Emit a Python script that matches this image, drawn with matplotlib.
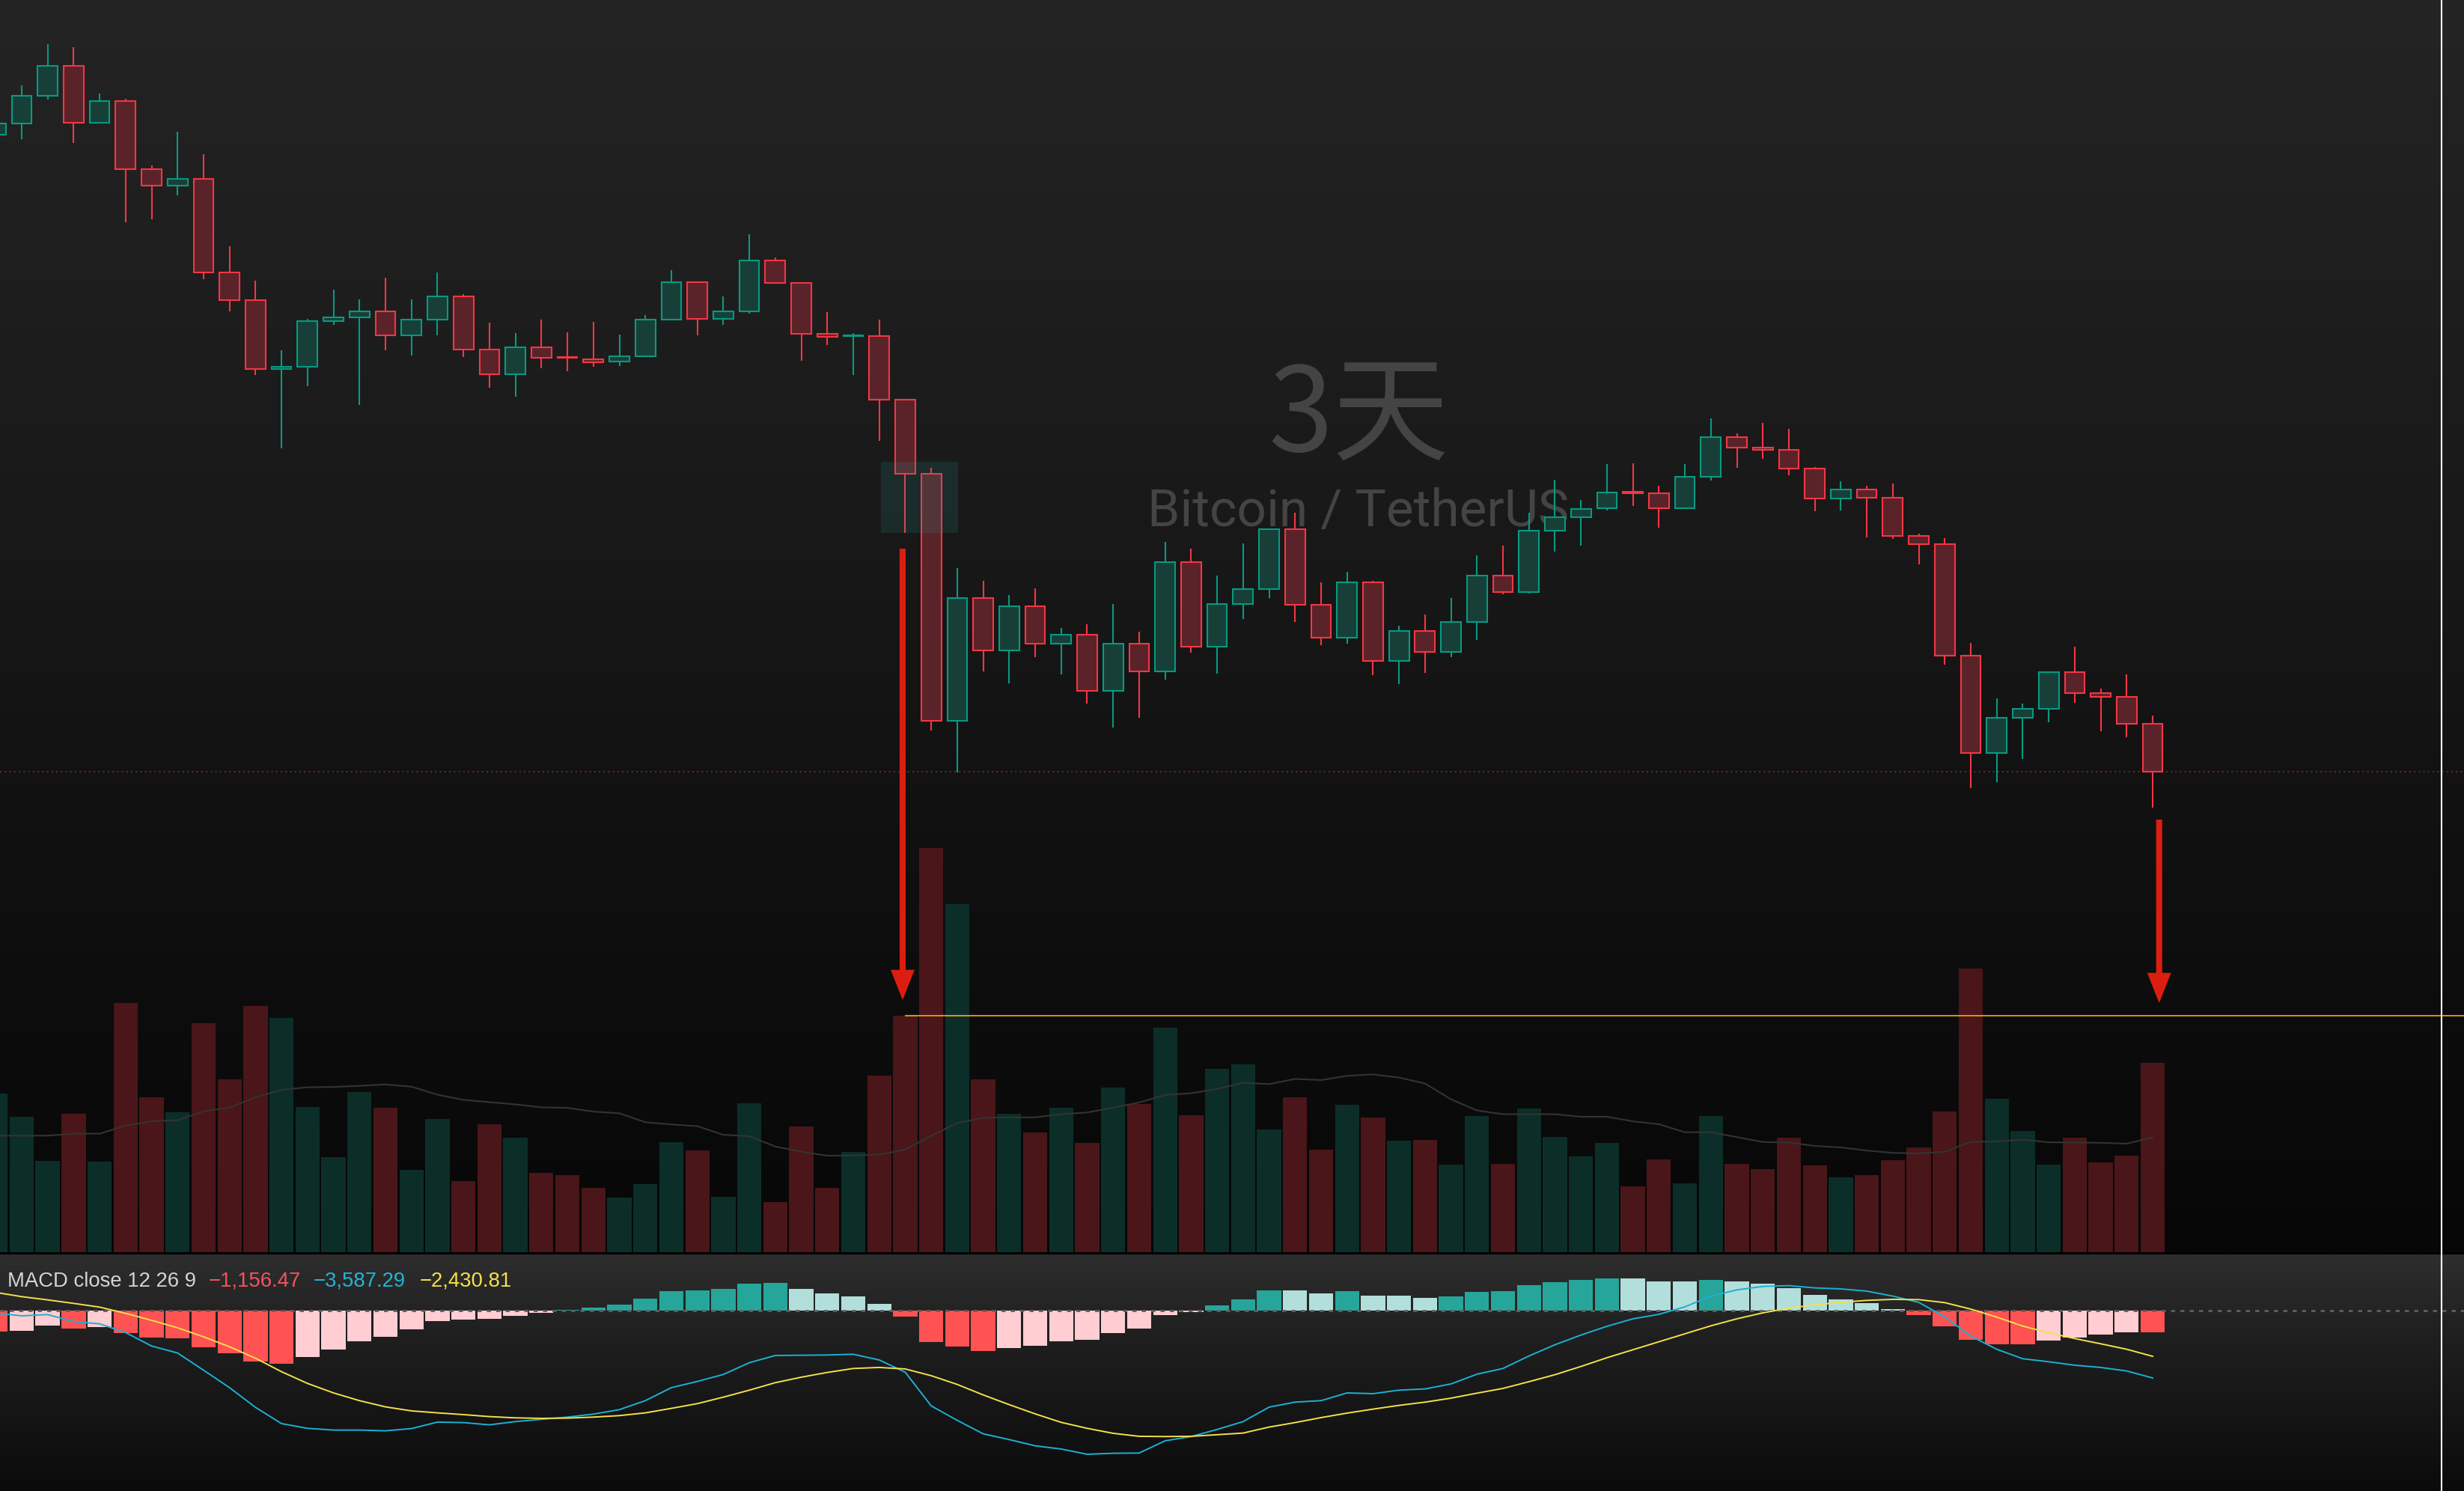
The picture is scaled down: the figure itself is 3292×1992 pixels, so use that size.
import numpy as np
import matplotlib
matplotlib.use("Agg")
import matplotlib.pyplot as plt
from matplotlib.patches import Rectangle, FancyArrowPatch
from matplotlib.lines import Line2D
from matplotlib.colors import to_rgb

# --- données (BTC/USDT, bougies 3 jours) ---
opens = [121200, 121800, 123280, 124870, 121830, 122980, 119350, 118470, 118850, 113820,
         112350, 108670, 108800, 111240, 111440, 111740, 110480, 111320, 112550, 109700,
         108380, 109830, 109300, 109180, 109060, 109350, 111320, 113310, 111350, 111750,
         114470, 113260, 110540, 110430, 110430, 107030, 103060, 89880, 96420, 93650,
         95980, 94010, 94460, 91470, 94000, 92500, 98340, 93830, 96120, 96900,
         100100, 96070, 94320, 97260, 93060, 94660, 93560, 95160, 97620, 96760,
         100030, 100760, 101240, 102130, 102020, 101240, 102910, 105020, 104470, 104340,
         103340, 101750, 102230, 101780, 99740, 99300, 93340, 88140, 90030, 90510,
         92460, 91340, 91140, 89700]
highs = [122000, 123840, 126040, 125880, 123390, 123130, 119560, 121350, 120160, 115240,
         113390, 109680, 111350, 112910, 112400, 113560, 112400, 113840, 112680, 111160,
         110610, 111320, 110640, 111200, 110520, 111550, 113960, 113330, 112560, 115880,
         114640, 113280, 111720, 110610, 111320, 107060, 103400, 98040, 97360, 96600,
         96960, 94840, 95040, 96120, 94640, 99430, 99080, 97640, 99370, 100130,
         100990, 97280, 97840, 97360, 94960, 95550, 96430, 98720, 99250, 100990,
         102770, 101690, 103610, 103640, 102450, 103610, 106040, 105230, 105800, 105480,
         103440, 102680, 102450, 102560, 99880, 99640, 94040, 91060, 90810, 92520,
         93840, 91600, 92360, 90160]
lows = [120960, 120940, 123090, 120740, 121800, 116500, 116690, 117940, 113490, 111740,
        108340, 104440, 107760, 111020, 106760, 109660, 109410, 110460, 109330, 107670,
        107210, 108700, 108540, 108800, 108830, 109340, 111300, 110490, 111020, 111620,
        113260, 109130, 109960, 108340, 104820, 99910, 89350, 87110, 92500, 91890,
        93260, 92370, 90780, 89500, 90020, 92060, 93530, 92380, 95320, 96430,
        95160, 93900, 94000, 92300, 91820, 92450, 93280, 94210, 96620, 96680,
        98920, 99220, 101100, 101340, 100180, 101220, 102700, 103410, 103890, 103010,
        101060, 101100, 99660, 99610, 98250, 92860, 86260, 86610, 87820, 89810,
        90820, 89300, 88980, 85220]
closes = [121800, 123260, 124870, 121830, 122980, 119350, 118470, 118850, 113840, 112350,
          108670, 108780, 111220, 111420, 111740, 110480, 111300, 112550, 109710, 108380,
          109830, 109280, 109260, 109050, 109350, 111300, 113310, 111370, 111740, 114470,
          113280, 110560, 110410, 110480, 107040, 103080, 89880, 96420, 93650, 95980,
          94010, 94460, 91490, 94000, 92500, 98340, 93830, 96100, 96900, 100100,
          96080, 94320, 97260, 93060, 94660, 93560, 95140, 97620, 96760, 100030,
          100740, 101210, 102060, 102050, 101240, 102910, 105020, 104470, 104360, 103360,
          101750, 102230, 101800, 99760, 99310, 93360, 88140, 90030, 90510, 92460,
          91350, 91160, 89710, 87160]

volumes = [21200, 18100, 12170, 18480, 12090, 33290, 20700, 18670, 30570, 23070,
           32870, 31300, 19400, 12670, 21390, 19290, 10980, 17790, 9490, 17070,
           15270, 10600, 10290, 8570, 7270, 9070, 14690, 13580, 7390, 19900,
           6700, 16800, 8570, 13390, 23570, 31570, 53990, 46490, 23070, 18480,
           16000, 19290, 14580, 21960, 19780, 30000, 18290, 24490, 25100, 16380,
           20700, 13700, 19670, 17980, 14890, 15000, 11670, 18180, 11790, 19170,
           15380, 12780, 14580, 8800, 12400, 9180, 18180, 11790, 11100, 15270,
           11590, 9990, 10290, 12280, 13970, 18790, 37880, 20470, 16190, 11670,
           15270, 11980, 12900, 25290]
vol_ma = [15570, 15570, 15570, 15840, 15840, 16910, 17490, 17640, 18830, 19320,
          20700, 21700, 22040, 22080, 22230, 22420, 22120, 21050, 20360, 20050,
          19750, 19360, 19290, 18790, 18560, 17370, 17070, 16840, 15690, 15500,
          14120, 13430, 12900, 12930, 13050, 13700, 15570, 17260, 17950, 18020,
          18020, 18440, 18670, 19320, 20010, 21010, 21240, 21810, 22650, 22460,
          23150, 23000, 23570, 23760, 23340, 22540, 20430, 18940, 18440, 18440,
          18440, 18100, 18100, 17490, 17100, 16030, 16030, 15380, 14730, 14660,
          14200, 14010, 13580, 13280, 13200, 13430, 14730, 14810, 15040, 14690,
          14660, 14620, 14500, 15340]

# MACD close 12 26 9
macd_hist = [-1120, -1053, -773, -947, -867, -1173, -1413, -1453, -1933, -2253,
             -2693, -2813, -2466, -2053, -1613, -1373, -973, -533, -453, -445,
             -253, -93, 53, 173, 333, 667, 1053, 1093, 1186, 1453,
             1493, 1173, 933, 773, 373, -307, -1653, -1906, -2146, -1986,
             -1853, -1626, -1546, -1186, -946, -213, -67, 293, 613, 1093,
             1080, 933, 1053, 813, 800, 693, 773, 1013, 1053, 1373,
             1533, 1653, 1733, 1720, 1573, 1560, 1653, 1573, 1453, 1213,
             853, 613, 413, 93, -213, -813, -1533, -1773, -1780, -1573,
             -1413, -1253, -1133, -1156.47]
macd_line = [-120, -267, -200, -574, -694, -1160, -1880, -2253, -3173, -4106,
             -5159, -6026, -6279, -6372, -6372, -6412, -6292, -5946, -5972, -6092,
             -5919, -5799, -5679, -5519, -5279, -4799, -4106, -3773, -3400, -2773,
             -2386, -2373, -2360, -2320, -2626, -3280, -5079, -5852, -6572, -6879,
             -7212, -7385, -7665, -7612, -7599, -6945, -6719, -6340, -5919, -5146,
             -4879, -4799, -4386, -4426, -4239, -4173, -3906, -3386, -3080, -2413,
             -1813, -1293, -827, -427, -187, 213, 786, 1119, 1306, 1346,
             1226, 1173, 1053, 786, 453, -320, -1347, -2053, -2560, -2720,
             -2906, -3026, -3213, -3587.29]
signal_line = [986, 759, 586, 399, 199, -134, -507, -907, -1387, -1920,
               -2533, -3253, -3879, -4386, -4799, -5132, -5346, -5452, -5546, -5652,
               -5719, -5746, -5732, -5679, -5599, -5452, -5212, -4959, -4613, -4239,
               -3839, -3546, -3293, -3080, -3026, -3106, -3466, -3933, -4493, -5013,
               -5506, -5959, -6279, -6545, -6705, -6719, -6705, -6620, -6532, -6212,
               -5972, -5706, -5466, -5252, -5052, -4879, -4666, -4399, -4146, -3786,
               -3413, -2973, -2506, -2080, -1653, -1227, -800, -427, -107, 146,
               319, 453, 559, 613, 599, 439, 93, -334, -814, -1173,
               -1480, -1760, -2053, -2430.81]

ORANGE_FROM = 35          # bougie où commence la ligne orange (niveau du volume)
ARROWS = [(34.9, 99080, 74960), (83.25, 84600, 74800)]   # (x, départ, pointe)
HIGHLIGHT = (34.07, 37.03, 99920, 103720)                 # zone teal

W, H = 3292, 1992
MAIN_BOTTOM = 1673
MACD_TOP = 1676
XLIM = (0.167, 94.98)

fig = plt.figure(figsize=(W / 100, H / 100), dpi=100)
fig.patch.set_facecolor('black')


def rect(top, bottom):
    return [0, 1 - bottom / H, 1, (bottom - top) / H]


def gradient(ax, stops):
    ys = np.linspace(0, 1, 256)
    pos = [s[0] for s in stops]
    cols = np.array([to_rgb(s[1]) for s in stops])
    img = np.stack([np.interp(ys, pos, cols[:, k]) for k in range(3)], axis=-1)[:, None, :]
    ax.imshow(img, extent=[0, 1, 0, 1], aspect='auto', origin='upper', interpolation='bilinear')
    ax.set_xlim(0, 1)
    ax.set_ylim(0, 1)
    ax.axis('off')


# fonds
ax_bg = fig.add_axes(rect(0, MAIN_BOTTOM))
gradient(ax_bg, [(0, '#242424'), (0.45, '#181818'), (0.66, '#111111'), (1, '#070707')])
ax_bg2 = fig.add_axes(rect(MACD_TOP, H))
gradient(ax_bg2, [(0, '#2e2e2e'), (0.35, '#1f1f1f'), (1, '#0b0b0b')])

# filigrane
ax_bg.text(1815 / W, 1 - 603 / H, '3天', transform=fig.transFigure, ha='center', va='baseline',
           fontsize=112, color='#444444', family=['Noto Sans CJK SC', 'DejaVu Sans'])
ax_bg.text(1815 / W, 1 - 703 / H, 'Bitcoin / TetherUS', transform=fig.transFigure, ha='center',
           va='baseline', fontsize=50, color='#444444', family='Roboto')

x = np.arange(len(opens))
o, hi, lo, c = (np.array(a, dtype=float) for a in (opens, highs, lows, closes))
up = c >= o

# volume
axv = fig.add_axes(rect(0, MAIN_BOTTOM))
axv.patch.set_alpha(0)
axv.bar(x, volumes, width=0.93, color=np.where(up, '#0c2e28', '#4a1619'), zorder=1)
axv.plot(x, vol_ma, color='#333333', lw=1.5, zorder=2)
axv.hlines(volumes[ORANGE_FROM], ORANGE_FROM, XLIM[1], color='#f39c12', lw=1.3, zorder=3)
axv.set_ylim(0, 167300)
axv.set_xlim(*XLIM)
axv.axis('off')

# bougies
ax = fig.add_axes(rect(0, MAIN_BOTTOM))
ax.patch.set_alpha(0)
edge = np.where(up, '#089981', '#f23645')
fill = np.where(up, '#173f38', '#5a2329')
ax.axhline(closes[-1], color='#6a2428', lw=1.5, ls=(0, (1, 2)), zorder=1)
ax.vlines(x, lo, hi, colors=edge, lw=1.5, zorder=3)
ax.bar(x, np.maximum(np.abs(c - o), 40), width=0.77, bottom=np.minimum(o, c),
       color=fill, edgecolor=edge, linewidth=1.5, zorder=4)
x0, x1, y0, y1 = HIGHLIGHT
ax.add_patch(Rectangle((x0, y0), x1 - x0, y1 - y0, facecolor='#26a69a', alpha=0.14, lw=0, zorder=5))
for xa, ya, yb in ARROWS:
    ax.add_patch(FancyArrowPatch((xa, ya), (xa, yb),
                                 arrowstyle='simple,head_length=2.9,head_width=2.3,tail_width=0.58',
                                 mutation_scale=10, color='#db1e10', lw=0,
                                 shrinkA=0, shrinkB=0, zorder=10))
ax.set_ylim(61480, 128400)
ax.set_xlim(*XLIM)
ax.axis('off')

# MACD
axm = fig.add_axes(rect(MACD_TOP, H))
axm.patch.set_alpha(0)
hcols = []
for i, hv in enumerate(macd_hist):
    prev = macd_hist[i - 1] if i > 0 else hv
    if hv >= 0:
        hcols.append('#26a69a' if hv > prev else '#b2dfdb')
    else:
        hcols.append('#ffcdd2' if hv > prev else '#ff5252')
axm.bar(x, macd_hist, width=0.93, color=hcols, zorder=2)
axm.axhline(0, color='#5f5f5f', lw=2, ls=(0, (2, 2.5)), zorder=3)
axm.plot(x, macd_line, color='#1cb0d4', lw=1.4, zorder=4)
axm.plot(x, signal_line, color='#f4e04a', lw=1.4, zorder=4)
axm.set_ylim(-9628, 3012)
axm.set_xlim(*XLIM)
axm.axis('off')

yb = 1 - 1719 / H
lab_font = dict(fontsize=19.8, family='Liberation Sans', va='baseline', transform=fig.transFigure)
fig.text(10.5 / W, yb, 'MACD close 12 26 9', color='#d1d4dc', **lab_font)
fig.text(279 / W, yb, f'\u2212{abs(macd_hist[-1]):,.2f}', color='#f7525f', **lab_font)
fig.text(419 / W, yb, f'\u2212{abs(macd_line[-1]):,.2f}', color='#22b5d6', **lab_font)
fig.text(561 / W, yb, f'\u2212{abs(signal_line[-1]):,.2f}', color='#f5e14a', **lab_font)

# ligne verticale blanche
fig.add_artist(Line2D([3262 / W] * 2, [0, 1], color='white', lw=1.5, transform=fig.transFigure))

fig.savefig('out.png', dpi=100, facecolor=fig.get_facecolor())
